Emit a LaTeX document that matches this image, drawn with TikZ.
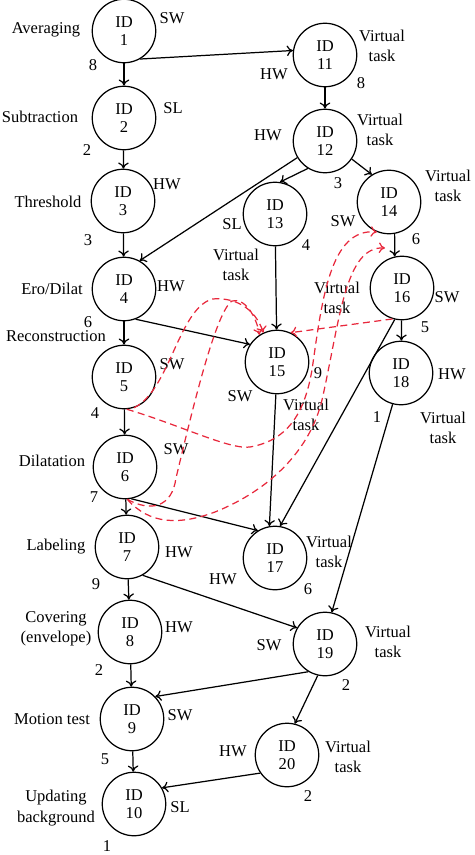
\documentclass[tikz,border=0pt]{standalone}
\usepackage{fontspec}
\setmainfont{Liberation Serif}
\usetikzlibrary{arrows.meta}
\definecolor{dashred}{RGB}{232,40,60}
\tikzset{
  task/.style={draw, circle, line width=0.7pt, minimum size=1.27cm, inner sep=0pt,
    align=center, font=\fontsize{9.4}{10}\selectfont},
  lbl/.style={font=\fontsize{9.4}{11.5}\selectfont, inner sep=0pt, align=center},
  edge/.style={line width=0.7pt, -{To[length=3.5pt,width=6pt]}},
  flow/.style={line width=0.7pt, dashred, dash pattern=on 4pt off 2.5pt,
    -{To[length=3.5pt,width=6pt]}}
}
\begin{document}
\begin{tikzpicture}[x=0.02cm, y=-0.02cm]
  \useasboundingbox (0,0) rectangle (474,855);
  % tasks of the left chain
  \node[task] (n1) at (124,31) {ID\\1};
  \node[task] (n2) at (124,118) {ID\\2};
  \node[task] (n3) at (123,201) {ID\\3};
  \node[task] (n4) at (124,289) {ID\\4};
  \node[task] (n5) at (124,377) {ID\\5};
  \node[task] (n6) at (125,467) {ID\\6};
  \node[task] (n7) at (127,547) {ID\\7};
  \node[task] (n8) at (130,632) {ID\\8};
  \node[task] (n9) at (132,719) {ID\\9};
  \node[task] (n10) at (134,804) {ID\\10};
  % virtual tasks
  \node[task] (n11) at (325,55) {ID\\11};
  \node[task] (n12) at (325,141) {ID\\12};
  \node[task] (n13) at (275,214) {ID\\13};
  \node[task] (n14) at (389,202) {ID\\14};
  \node[task] (n15) at (277,362) {ID\\15};
  \node[task] (n16) at (402,288) {ID\\16};
  \node[task] (n17) at (275,558) {ID\\17};
  \node[task] (n18) at (401,373) {ID\\18};
  \node[task] (n19) at (325,644) {ID\\19};
  \node[task] (n20) at (287,755) {ID\\20};

  % names, targets and costs
  \node[lbl] (t1) at (46,30) {Averaging};
  \node[lbl] (p1) at (172,18) {SW};
  \node[lbl] (c1) at (93,65) {8};
  \node[lbl] (t2) at (40,117) {Subtraction};
  \node[lbl] (p2) at (173,108) {SL};
  \node[lbl] (c2) at (87,150) {2};
  \node[lbl] (t3) at (48,202) {Threshold};
  \node[lbl] (p3) at (167,184) {HW};
  \node[lbl] (c3) at (88,240) {3};
  \node[lbl] (t4) at (52,289) {Ero/Dilat};
  \node[lbl] (p4) at (171,286) {HW};
  \node[lbl] (c4) at (88,322) {6};
  \node[lbl] (t5) at (56,336) {Reconstruction};
  \node[lbl] (p5) at (172,364) {SW};
  \node[lbl] (c5) at (95,413) {4};
  \node[lbl] (t6) at (52,461) {Dilatation};
  \node[lbl] (p6) at (176,449) {SW};
  \node[lbl] (c6) at (94,497) {7};
  \node[lbl] (t7) at (56,547) {Labeling};
  \node[lbl] (p7) at (179,552) {HW};
  \node[lbl] (c7) at (96,584) {9};
  \node[lbl] (t8) at (56,629) {Covering\\(envelope)};
  \node[lbl] (p8) at (179,627) {HW};
  \node[lbl] (c8) at (99,670) {2};
  \node[lbl] (t9) at (52,719) {Motion test};
  \node[lbl] (p9) at (180,715) {SW};
  \node[lbl] (c9) at (105,759) {5};
  \node[lbl] (t10) at (56,808) {Updating\\background};
  \node[lbl] (p10) at (180,807) {SL};
  \node[lbl] (c10) at (107,846) {1};

  \node[lbl] (v11) at (382,46) {Virtual\\task};
  \node[lbl] (p11) at (274,74) {HW};
  \node[lbl] (c11) at (361,83) {8};
  \node[lbl] (v12) at (380,130) {Virtual\\task};
  \node[lbl] (p12) at (268,135) {HW};
  \node[lbl] (c12) at (338,183) {3};
  \node[lbl] (p13) at (232,224) {SL};
  \node[lbl] (v13) at (236,265) {Virtual\\task};
  \node[lbl] (c13) at (306,245) {4};
  \node[lbl] (v14) at (448,186) {Virtual\\task};
  \node[lbl] (p14) at (343,221) {SW};
  \node[lbl] (c14) at (416,239) {6};
  \node[lbl] (c15) at (318,373) {9};
  \node[lbl] (p15) at (240,396) {SW};
  \node[lbl] (v15) at (306,415) {Virtual\\task};
  \node[lbl] (p16) at (447,297) {SW};
  \node[lbl] (v16) at (337,298) {Virtual\\task};
  \node[lbl] (c16) at (425,327) {5};
  \node[lbl] (v17) at (329,552) {Virtual\\task};
  \node[lbl] (p17) at (223,579) {HW};
  \node[lbl] (c17) at (308,589) {6};
  \node[lbl] (p18) at (452,374) {HW};
  \node[lbl] (c18) at (377,417) {1};
  \node[lbl] (v18) at (443,428) {Virtual\\task};
  \node[lbl] (p19) at (269,645) {SW};
  \node[lbl] (v19) at (388,642) {Virtual\\task};
  \node[lbl] (c19) at (346,685) {2};
  \node[lbl] (p20) at (233,751) {HW};
  \node[lbl] (v20) at (348,757) {Virtual\\task};
  \node[lbl] (c20) at (308,796) {2};

  % precedence edges
  \foreach \a/\b in {1/2, 2/3, 3/4, 4/5, 5/6, 6/7, 7/8, 8/9, 9/10, 11/12, 16/18}
    \draw[edge] (n\a) -- (n\b);
  \draw[edge] (n1.-60) -- (n11.172);
  \draw[edge] (n12.-122) -- (n13.81);
  \draw[edge] (n12.-34) -- (n14.122);
  \draw[edge] (n12.-149) -- (n4.61);
  \draw[edge] (n13) -- (n15);
  \draw[edge] (n14.-80) -- (n16.103);
  \draw[edge] (n4.-69) -- (n15.147);
  \draw[edge] (n16.-103) -- (n17.81);
  \draw[edge] (n15.-92) -- (n17.100);
  \draw[edge] (n6.-79) -- (n17.122);
  \draw[edge] (n18.-105) -- (n19.78);
  \draw[edge] (n7.-61) -- (n19.150);
  \draw[edge] (n19.-121) -- (n9.44);
  \draw[edge] (n19.-103) -- (n20.76);
  \draw[edge] (n20.-146) -- (n10.30);

  % data transfers
  \coordinate (e16) at (385,248);
  \draw[flow] (n16.-107) -- (n15.65);
  \draw[flow] (n5.-72) .. controls (170,390) and (178,310) .. (212,299)
    .. controls (235,297) and (255,308) .. (n15.115);
  \draw[flow] (n6.-86) .. controls (150,512) and (172,508) .. (176,478)
    .. controls (190,420) and (215,312) .. (232,301)
    .. controls (245,297) and (257,318) .. (n15.123);
  \draw[flow] (n5.-85) .. controls (180,425) and (230,450) .. (250,447)
    .. controls (290,440) and (305,410) .. (312,370)
    .. controls (322,300) and (330,228) .. (n14.-112);
  \draw[flow] (n6.-86) .. controls (150,525) and (180,525) .. (215,512)
    .. controls (270,490) and (310,450) .. (322,400)
    .. controls (340,320) and (345,246) .. (e16);
\end{tikzpicture}
\end{document}
